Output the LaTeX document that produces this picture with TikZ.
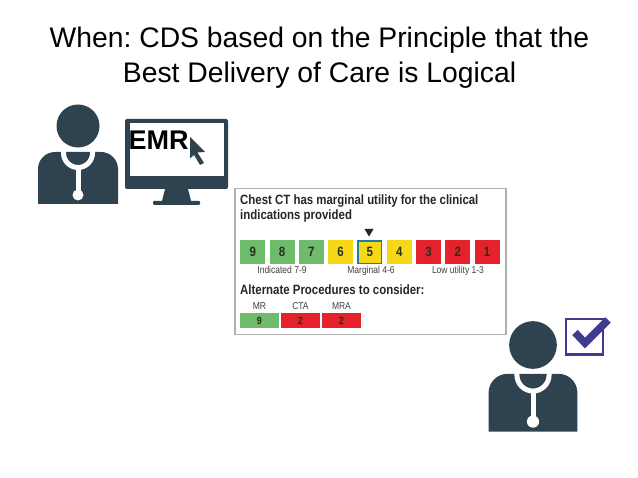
\documentclass[tikz,border=0pt]{standalone}
\usepackage{fontspec}
\setmainfont{Liberation Sans}
\newfontfamily\chartfont[FakeStretch=0.85]{Liberation Sans}
\usetikzlibrary{matrix}
\definecolor{iconblue}{HTML}{2F4250}
\definecolor{checkblue}{HTML}{3F3B8E}
\definecolor{cellgreen}{HTML}{6DBB6B}
\definecolor{cellyellow}{HTML}{F6D818}
\definecolor{cellred}{HTML}{E5222B}
\definecolor{selblue}{HTML}{1C7FA0}
\definecolor{boxgray}{HTML}{B0B0B0}
\definecolor{cellink}{HTML}{26301F}

\tikzset{
	doctor/.pic={
		\fill[iconblue] (0,0) circle (21.5);
		\fill[iconblue] (-40,78) -- (-40,43) arc (180:270:17) -- (23,26) arc (270:360:17) -- (40,78) -- cycle;
		\draw[white,line width=5pt] (-14.5,25) -- (-14.5,27) arc (180:0:14.5) -- (14.5,25);
		\draw[white,line width=5pt] (0,41) -- (0,66);
		\fill[white] (0,69) circle (5.5);
	},
	cell/.style={minimum width=25pt,minimum height=24pt,inner sep=0pt,text=cellink,
		font=\chartfont\fontsize{13.5}{13.5}\bfseries\selectfont},
	altcell/.style={minimum width=38.5pt,minimum height=14.5pt,inner sep=0pt,text=cellink,
		font=\chartfont\fontsize{10.5}{10.5}\bfseries\selectfont},
	heading/.style={anchor=base west,inner sep=0pt,font=\chartfont\fontsize{13.45}{15}\bfseries\selectfont,text=black!85},
	small/.style={inner sep=0pt,font=\chartfont\fontsize{10}{10}\selectfont,text=black!75},
}

\begin{document}
\frenchspacing
\begin{tikzpicture}[x=1pt,y=-1pt]
	\useasboundingbox (0,0) rectangle (638,478);

	\node[align=center,inner sep=0pt,font=\fontsize{28.3}{34.5}\selectfont] (title) at (319.5,57.5)
		{When: CDS based on the Principle that the\\Best Delivery of Care is Logical};

	\pic at (78,126) {doctor};
	\pic[scale=1.11] at (533,345) {doctor};

	% monitor
	\fill[iconblue,rounded corners=2pt] (125,119) rectangle (228,189);
	\fill[white] (130,123.5) rectangle (224,176);
	\fill[iconblue] (165,189) -- (188,189) -- (191,201) -- (162,201) -- cycle;
	\fill[iconblue,rounded corners=1pt] (153,201) rectangle (200,205);
	\node[anchor=base west,inner sep=0pt,font=\fontsize{27}{30}\bfseries\selectfont] (emr) at (128.5,150) {EMR};
	\fill[iconblue] (190,137) -- (205,152) -- (197.5,152.5) -- (204,163) -- (200,165) -- (194,155) -- (190,158.5) -- cycle;

	% chart
	\draw[boxgray,line width=1.5pt,fill=white] (235,188.5) rectangle (506,334.5);
	\node[heading] (line1) at (240,205) {Chest CT has marginal utility for the clinical};
	\node[heading] (line2) at (240,219.5) {indications provided};
	\fill[black!85] (364.5,229) -- (373.5,229) -- (369,236.5) -- cycle;
	\matrix (m) [matrix of nodes,column sep=4.3pt,inner sep=0pt,anchor=north west,
		nodes={cell}] at (240,240)
	{
		|[fill=cellgreen]| 9 & |[fill=cellgreen]| 8 & |[fill=cellgreen]| 7 &
		|[fill=cellyellow]| 6 & |[fill=cellyellow,draw=selblue,line width=1.2pt,minimum width=23.8pt,minimum height=22.8pt]| 5 & |[fill=cellyellow]| 4 &
		|[fill=cellred]| 3 & |[fill=cellred]| 2 & |[fill=cellred]| 1 \\
	};
	\node[small,anchor=base] (ind) at (282,274) {Indicated 7-9};
	\node[small,anchor=base] (mar) at (371,274) {Marginal 4-6};
	\node[small,anchor=base] (low) at (458,274) {Low utility 1-3};
	\node[heading] (alt) at (240,294.5) {Alternate Procedures to consider:};
	\matrix (n) [matrix of nodes,column sep=2.5pt,row sep=1.5pt,inner sep=0pt,anchor=north west,
		nodes={altcell}] at (240,300)
	{
		|[small,minimum height=11.5pt]| MR & |[small,minimum height=11.5pt]| CTA & |[small,minimum height=11.5pt]| MRA \\
		|[fill=cellgreen]| 9 & |[fill=cellred]| 2 & |[fill=cellred]| 2 \\
	};

	% check box
	\draw[checkblue,line width=2.4pt] (566,319) rectangle (603,354.5);
	\draw[checkblue,line width=7.5pt] (575,332.5) -- (585,343) -- (608,320);
\end{tikzpicture}
\end{document}
